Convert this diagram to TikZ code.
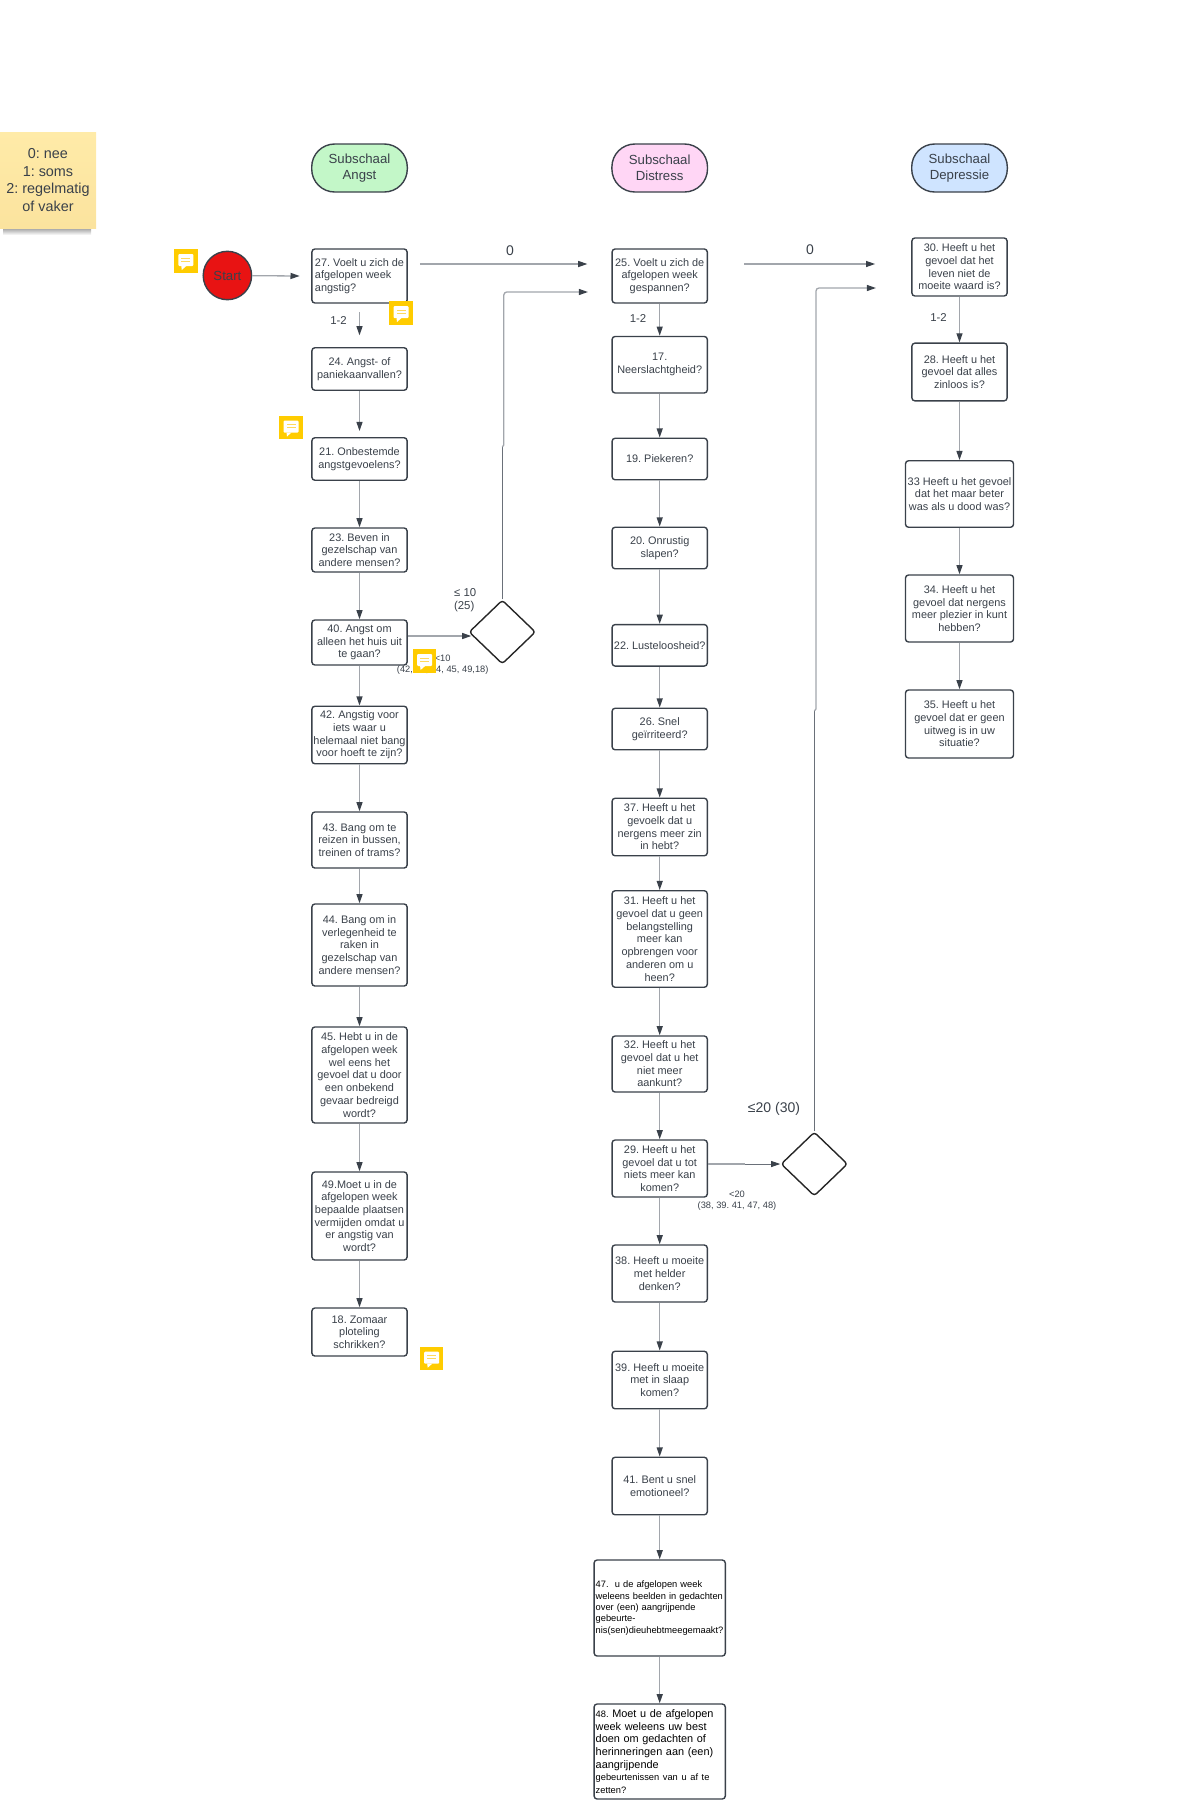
\documentclass[tikz,border=0pt]{standalone}
\usepackage{fontspec}
\setmainfont{Liberation Sans}
\usetikzlibrary{shapes.geometric,arrows.meta}
\definecolor{tekst}{HTML}{3A414A}
\definecolor{lijngrijs}{HTML}{A2A6AC}
\definecolor{lijndonker}{HTML}{6A7079}
\definecolor{geel}{HTML}{FFCC00}
\definecolor{geellicht}{HTML}{FFD95C}
\frenchspacing
\newcommand{\klein}{\fontsize{4.65}{5.7}\selectfont}
\tikzstyle{rectvraag} = [rectangle, rounded corners=1.5pt, minimum width=47.6pt, inner sep=0pt, align=center, draw=tekst, line width=.7pt, text=tekst, fill=white, font=\fontsize{5.45}{6.35}\selectfont]
\tikzstyle{rectkop} = [rectangle, rounded corners=11.5pt, minimum width=47.8pt, minimum height=24pt, inner sep=0pt, align=center, draw=tekst, line width=.7pt, text=tekst, font=\fontsize{6.6}{8}\selectfont]
\tikzstyle{rectgroen} = [rectkop, fill={rgb,255:red,195;green,247;blue,200}]
\tikzstyle{rectroze} = [rectkop, fill={rgb,255:red,255;green,214;blue,245}]
\tikzstyle{rectblauw} = [rectkop, fill={rgb,255:red,207;green,228;blue,255}]
\tikzstyle{rectnota} = [rectangle, minimum width=48pt, minimum height=48pt, inner sep=0pt, align=center, text=tekst, top color={rgb,255:red,255;green,235;blue,168}, bottom color={rgb,255:red,251;green,227;blue,158}, font=\fontsize{7.2}{8.75}\selectfont]
\tikzstyle{rombo} = [diamond, aspect=1, minimum width=33.3pt, minimum height=32pt, inner sep=0pt, rounded corners=1.5pt, draw=black!85, line width=.7pt, fill=white]
\tikzstyle{arrow} = [draw=lijngrijs, line width=.65pt, ->, >={Triangle[length=4.6pt,width=3pt,color=tekst]}]
\tikzstyle{label} = [inner sep=0pt, text=tekst, align=center, font=\fontsize{5.7}{6.4}\selectfont]
\tikzstyle{labelgroot} = [inner sep=0pt, text=tekst, align=center, font=\fontsize{7}{8}\selectfont]
\tikzstyle{labelklein} = [inner sep=0pt, text=tekst, align=center, font=\klein]
\tikzset{commentaar/.pic={
    \fill[geel] (-11.7,-11.7) rectangle (11.7,11.7);
    \fill[white,rounded corners=.5pt] (-7.5,-7) rectangle (7.5,5);
    \fill[white] (-4.5,5) -- (-4,9) -- (0.5,5) -- cycle;
    \fill[geellicht] (-4.5,-3.5) rectangle (4.5,-2.3);
    \fill[geellicht] (-4.5,-.5) rectangle (4.5,.7);
}}

\begin{document}
\begin{tikzpicture}[x=.5pt,y=-.5pt]
    \useasboundingbox (0,0) rectangle (1200,1800);
    % Nota
    \fill[top color=gray!75, bottom color=white] (3,228) rectangle (91,235);
    \node (nota) [rectnota] at (48,180) {0: nee\\1: soms\\2: regelmatig\\of vaker};
    % Kopjes
    \node (kopangst) [rectgroen] at (359.5,168) {Subschaal\\Angst};
    \node (kopdistress) [rectroze] at (659.7,168) {Subschaal\\Distress};
    \node (kopdepressie) [rectblauw] at (959.5,168) {Subschaal\\Depressie};
    \node (start) [circle, minimum size=24.2pt, inner sep=0pt, draw=tekst, line width=.7pt, fill={rgb,255:red,232;green,19;blue,19}, text=tekst, font=\fontsize{6.6}{8}\selectfont] at (227.4,275.5) {Start};
    % Vragen angst
    \node (v27) [rectvraag, node distance=54pt, below of=kopangst, minimum height=27pt, align=left] {27. Voelt u zich de\\afgelopen week\\angstig?};
    \node (v24) [rectvraag, node distance=46.5pt, below of=v27, minimum height=21.25pt] {24. Angst- of\\paniekaanvallen?};
    \node (v21) [rectvraag, node distance=45pt, below of=v24, minimum height=21.25pt] {21. Onbestemde\\angstgevoelens?};
    \node (v23) [rectvraag, node distance=45.5pt, below of=v21, minimum height=22pt] {23. Beven in\\gezelschap van\\andere mensen?};
    \node (v40) [rectvraag, node distance=46.25pt, below of=v23, minimum height=22.5pt] {40. Angst om\\alleen het huis uit\\te gaan?};
    \node (v42) [rectvraag, node distance=46.25pt, below of=v40, minimum height=28.75pt] {42. Angstig voor\\iets waar u\\helemaal niet bang\\voor hoeft te zijn?};
    \node (v43) [rectvraag, node distance=52.5pt, below of=v42, minimum height=28pt] {43. Bang om te\\reizen in bussen,\\treinen of trams?};
    \node (v44) [rectvraag, node distance=52.5pt, below of=v43, minimum height=41pt] {44. Bang om in\\verlegenheid te\\raken in\\gezelschap van\\andere mensen?};
    \node (v45) [rectvraag, node distance=65pt, below of=v44, minimum height=48pt] {45. Hebt u in de\\afgelopen week\\wel eens het\\gevoel dat u door\\een onbekend\\gevaar bedreigd\\wordt?};
    \node (v49) [rectvraag, node distance=70.5pt, below of=v45, minimum height=44pt] {49.Moet u in de\\afgelopen week\\bepaalde plaatsen\\vermijden omdat u\\er angstig van\\wordt?};
    \node (v18) [rectvraag, node distance=58pt, below of=v49, minimum height=24pt] {18. Zomaar\\ploteling\\schrikken?};
    % Vragen distress
    \node (v25) [rectvraag, node distance=54pt, below of=kopdistress, minimum height=27pt] {25. Voelt u zich de\\afgelopen week\\gespannen?};
    \node (v17) [rectvraag, node distance=44.35pt, below of=v25, minimum height=28.25pt] {17.\\Neerslachtgheid?};
    \node (v19) [rectvraag, node distance=47.15pt, below of=v17, minimum height=20.75pt] {19. Piekeren?};
    \node (v20) [rectvraag, node distance=44.5pt, below of=v19, minimum height=20.75pt] {20. Onrustig\\slapen?};
    \node (v22) [rectvraag, node distance=48.65pt, below of=v20, minimum height=20.75pt] {22. Lusteloosheid?};
    \node (v26) [rectvraag, node distance=41.85pt, below of=v22, minimum height=20.75pt] {26. Snel\\geïrriteerd?};
    \node (v37) [rectvraag, node distance=49pt, below of=v26, minimum height=28.75pt] {37. Heeft u het\\gevoelk dat u\\nergens meer zin\\in hebt?};
    \node (v31) [rectvraag, node distance=56pt, below of=v37, minimum height=48.25pt] {31. Heeft u het\\gevoel dat u geen\\belangstelling\\meer kan\\opbrengen voor\\anderen om u\\heen?};
    \node (v32) [rectvraag, node distance=62.5pt, below of=v31, minimum height=28pt] {32. Heeft u het\\gevoel dat u het\\niet meer\\aankunt?};
    \node (v29) [rectvraag, node distance=52.25pt, below of=v32, minimum height=28.5pt] {29. Heeft u het\\gevoel dat u tot\\niets meer kan\\komen?};
    \node (v38) [rectvraag, node distance=52.5pt, below of=v29, minimum height=28.5pt] {38. Heeft u moeite\\met helder\\denken?};
    \node (v39) [rectvraag, node distance=53.25pt, below of=v38, minimum height=28.75pt] {39. Heeft u moeite\\met in slaap\\komen?};
    \node (v41) [rectvraag, node distance=53pt, below of=v39, minimum height=28.75pt] {41. Bent u snel\\emotioneel?};
    \node (v47) [rectvraag, node distance=61pt, below of=v41, minimum width=65.6pt, minimum height=48pt, text width=64pt, align=left, text=black, font=\klein] {47.\ \ u de afgelopen week\\weleens beelden in gedachten\\over (een) aangrijpende\\gebeurte-\\nis(sen)dieuhebtmeegemaakt?};
    \node (v48) [rectvraag, node distance=71.75pt, below of=v47, minimum width=65.6pt, minimum height=47.5pt, text width=64pt, align=left, text=black] {{\klein 48.} Moet u de afgelopen\\week weleens uw best\\doen om gedachten of\\herinneringen aan (een)\\aangrijpende\\{\klein gebeurtenissen van u af te}\\{\klein zetten?}};
    % Vragen depressie
    \node (v30) [rectvraag, node distance=49.5pt, below of=kopdepressie, minimum height=29pt] {30. Heeft u het\\gevoel dat het\\leven niet de\\moeite waard is?};
    \node (v28) [rectvraag, node distance=52.5pt, below of=v30, minimum height=28.85pt] {28. Heeft u het\\gevoel dat alles\\zinloos is?};
    \node (v33) [rectvraag, node distance=61pt, below of=v28, minimum width=54pt, minimum height=33.25pt] {33 Heeft u het gevoel\\dat het maar beter\\was als u dood was?};
    \node (v34) [rectvraag, node distance=57.25pt, below of=v33, minimum width=54pt, minimum height=33.5pt] {34. Heeft u het\\gevoel dat nergens\\meer plezier in kunt\\hebben?};
    \node (v35) [rectvraag, node distance=57.75pt, below of=v34, minimum width=54pt, minimum height=34pt] {35. Heeft u het\\gevoel dat er geen\\uitweg is in uw\\situatie?};
    % Ruiten
    \node (d1) [rombo] at (502.3,632) {};
    \node (d2) [rombo] at (814.3,1164) {};
    % Hulppunten
    \coordinate (knik1a) at (502.3,447);
    \coordinate (knik1b) at (503.8,445);
    \coordinate (eind1) at (588,292);
    \coordinate (knik2a) at (814.3,711);
    \coordinate (knik2b) at (816,709);
    \coordinate (eind2) at (876,288);
    \coordinate (knik3) at (745,1164);
    % Pijlen
    \draw[arrow] (start) -- ([xshift=-5.75pt]v27.west);
    \draw[arrow] ([yshift=-4.25pt]v27.south) -- ([yshift=5.85pt]v24.north);
    \draw[arrow] (v24) -- ([yshift=3pt]v21.north);
    \draw[arrow] (v21) -- (v23);
    \draw[arrow] (v23) -- (v40);
    \draw[arrow] (v40) -- (v42);
    \draw[arrow] (v42) -- (v43);
    \draw[arrow] (v43) -- (v44);
    \draw[arrow] (v44) -- (v45);
    \draw[arrow] (v45) -- (v49);
    \draw[arrow] (v49) -- (v18);
    \draw[arrow] (v25) -- (v17);
    \draw[arrow] (v17) -- (v19);
    \draw[arrow] (v19) -- (v20);
    \draw[arrow] (v20) -- (v22);
    \draw[arrow] (v22) -- (v26);
    \draw[arrow] (v26) -- (v37);
    \draw[arrow] (v37) -- (v31);
    \draw[arrow] (v31) -- (v32);
    \draw[arrow] (v32) -- (v29);
    \draw[arrow] (v29) -- (v38);
    \draw[arrow] (v38) -- (v39);
    \draw[arrow] (v39) -- (v41);
    \draw[arrow] (v41) -- (v47);
    \draw[arrow] (v47) -- (v48);
    \draw[arrow] (v30) -- (v28);
    \draw[arrow] (v28) -- (v33);
    \draw[arrow] (v33) -- (v34);
    \draw[arrow] (v34) -- (v35);
    \draw[arrow] ([xshift=6pt,yshift=6pt]v27.east) -- ([xshift=-12pt,yshift=6pt]v25.west);
    \draw[arrow] ([xshift=18pt,yshift=6pt]v25.east) -- ([xshift=-18pt,yshift=1.5pt]v30.west);
    \draw[arrow] ([yshift=3.25pt]v40.east) -- ([xshift=1.5pt,yshift=-2pt]d1.west);
    \draw[draw=lijndonker, line width=.5pt] (d1.north) -- (knik1a);
    \draw[arrow] (knik1a) -- (knik1b) [rounded corners=1.5pt] |- (eind1);
    \draw[draw=lijngrijs, line width=.65pt] ([yshift=2.25pt]v29.east) -- (knik3);
    \draw[arrow, draw=lijndonker, line width=.5pt] (knik3) -- (d2.west);
    \draw[draw=lijndonker, line width=.5pt] (d2.north) -- (knik2a);
    \draw[arrow] (knik2a) -- (knik2b) [rounded corners=1.5pt] |- (eind2);
    % Teksten
    \node (nul1) [labelgroot] at (510,251) {0};
    \node (nul2) [labelgroot] at (810,250) {0};
    \node (een1) [label] at (338.5,320.5) {1-2};
    \node (een2) [label] at (638,319) {1-2};
    \node (een3) [label] at (938.5,318) {1-2};
    \node (grens1) [label, align=left, anchor=west] at (453.7,600.5) {≤ 10\\(25)};
    \node (rest1) [labelklein] at (442.7,664.5) {<10\\(42, 43, 44, 45, 49,18)};
    \node (grens2) [labelgroot] at (774,1109) {≤20 (30)};
    \node (rest2) [labelklein] at (737,1201) {<20\\(38, 39. 41, 47, 48)};
    % Commentaar
    \pic at (185.8,261) {commentaar};
    \pic at (401,313) {commentaar};
    \pic at (291,427.5) {commentaar};
    \pic at (424.6,661) {commentaar};
    \pic at (431.7,1358.7) {commentaar};
\end{tikzpicture}
\end{document}
